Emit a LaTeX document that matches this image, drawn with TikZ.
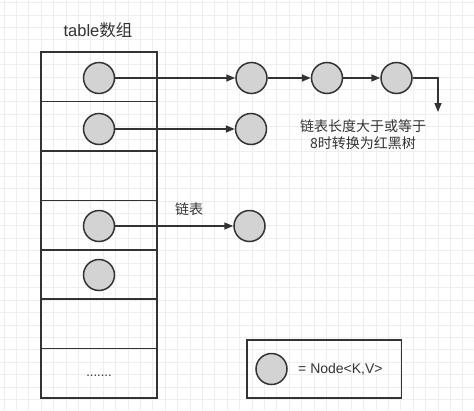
\documentclass[tikz,border=0pt]{standalone}
\usepackage{fontspec}
\setmainfont{Liberation Sans}
\newfontfamily\cjk{Noto Sans CJK SC}
\usetikzlibrary{arrows.meta}
\definecolor{ln}{HTML}{333333}
\definecolor{nodefill}{HTML}{D3D3D3}
\definecolor{gridc}{HTML}{EEEEEE}
\begin{document}
\begin{tikzpicture}[x=1pt,y=-1pt,
  kv/.style={circle,draw=ln,fill=nodefill,line width=1.5pt,minimum size=31pt,inner sep=0pt},
  cell/.style={draw=ln,line width=1.5pt,minimum width=116pt,minimum height=49.5pt,inner sep=0pt},
  link/.style={draw=ln,line width=1.6pt,-{Triangle[width=7pt,length=9pt]}},
  lbl/.style={text=ln,inner sep=0pt,align=center}]
\useasboundingbox (0,0) rectangle (474,410);
\fill[white] (0,0) rectangle (474,410);
% faint grid
\foreach \i in {-3,...,35} \draw[gridc,line width=0.5pt] ({41+12.4*\i},0) -- ({41+12.4*\i},410);
\foreach \j in {-4,...,30} \draw[gridc,line width=0.5pt] (0,{52+12.4*\j}) -- (474,{52+12.4*\j});
% title
\node[lbl,font=\fontsize{16.5}{19}\selectfont] (title) at (98,30) {table{\cjk 数组}};
% table cells
\foreach \k in {1,...,7} \node[cell] (c\k) at (99,{52+49.43*(\k-0.5)}) {};
\node[lbl,font=\fontsize{13}{15}\selectfont] (dots) at (99,376) {.......};
% nodes in table
\node[kv] (t1) at (99,78) {};
\node[kv] (t2) at (99,129) {};
\node[kv] (t4) at (99,226) {};
\node[kv] (t5) at (99,275) {};
% chain row 1
\node[kv] (a1) at (251.5,78) {};
\node[kv] (a2) at (327,78) {};
\node[kv] (a3) at (396.5,78) {};
\coordinate (turn) at (438,78);
\coordinate (down) at (438,112);
\draw[link] (t1) -- (a1);
\draw[link] (a1) -- (a2);
\draw[link] (a2) -- (a3);
\draw[link] (a3.east) -- (turn) -- (down);
\node[lbl,font=\cjk\fontsize{14}{17.5}\selectfont] (note) at (363,134.5) {链表长度大于或等于\\8时转换为红黑树};
% row 2
\node[kv] (b1) at (251,129) {};
\draw[link] (t2) -- (b1);
% row 4
\node[kv] (d1) at (249.5,226) {};
\draw[link] (t4) -- (d1);
\node[lbl,font=\cjk\fontsize{14}{16}\selectfont] (chain) at (189,209) {链表};
% legend
\node[draw=ln,line width=1.5pt,minimum width=154.5pt,minimum height=58pt,inner sep=0pt] (legend) at (324,369) {};
\node[kv] (lk) at (271.5,369) {};
\node[lbl,font=\fontsize{14}{16}\selectfont,anchor=west] (ltext) at (298,369) {= Node<K,V>};
\end{tikzpicture}
\end{document}
